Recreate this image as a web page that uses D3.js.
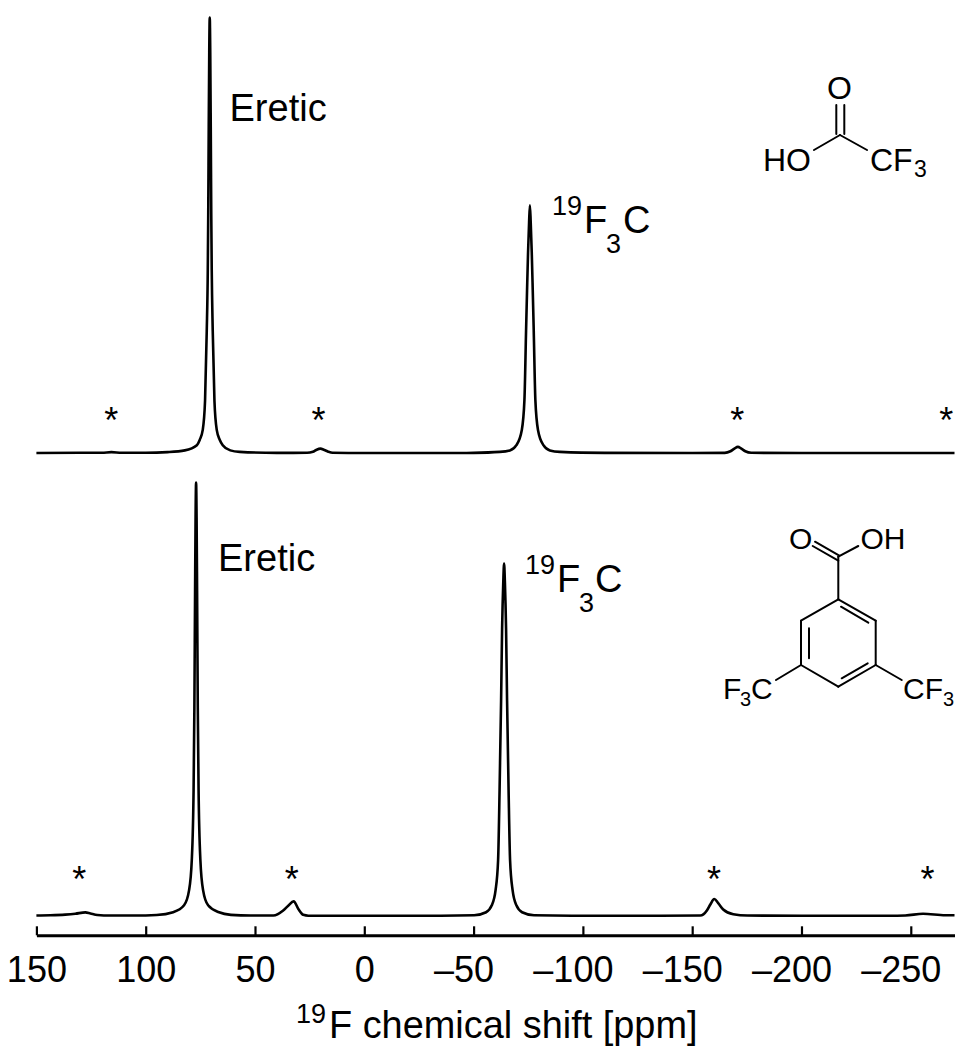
<!DOCTYPE html>
<html><head><meta charset="utf-8">
<script src="https://cdn.jsdelivr.net/npm/d3@7"></script>
<style>html,body{margin:0;padding:0;background:#fff}svg{display:block}text{font-family:"Liberation Sans",Arial,sans-serif;fill:#000}</style>
</head><body><div id="chart"></div>
<script>
const topPpm = [150,130,120,115.7,111,100,90,82.1,76.6,75.3,73.9,72.85,72.07,71.6,71.39,71.16,70.93,70.7,70.47,70.24,70.01,69.79,69.33,68.55,67.5,66.1,64.75,61.3,57,40,26.2,23.5,22,20.1,18.3,16.5,14.5,0,-40,-50,-62,-66.6,-69.58,-72.06,-73.26,-74.01,-74.46,-74.91,-75.39,-75.76,-76.13,-76.61,-77.06,-77.51,-78.26,-79.46,-81.94,-84.9,-89.5,-110,-150,-164.9,-167.5,-169.3,-170.9,-172.5,-174.3,-177,-200,-240,-270];
const topInt = [0,0.05,0.05,0.2,0.05,0.05,0.2,0.6,1.8,3,5.3,12,28,42,55,75,92,100,92,75,55,42,28,12,5.3,3,1.8,0.6,0.25,0.03,0.05,0.3,0.7,1,0.7,0.3,0.05,0,0,0.03,0.25,0.6,1.8,5.3,12.2,28.2,37.4,46,53,56.9,53,46,37.4,28.2,12.2,5.3,1.8,0.6,0.25,0.03,0,0.03,0.4,1,1.4,1,0.4,0.05,0,0,0];

const bottomPpm = [150,143.6,136.8,132.2,127.6,125.3,122.1,116.2,105,95,87.45,82.45,80.15,78.92,78.09,77.73,77.41,77.18,76.95,76.72,76.49,76.17,75.81,74.98,73.75,71.45,66.45,61,52,41.6,37.1,34.8,32.3,30.1,27.9,25.6,10,-35,-50.25,-55.72,-58.32,-60.06,-61.21,-61.89,-62.58,-63.04,-63.58,-63.95,-64.32,-64.86,-65.32,-66.01,-66.69,-67.84,-69.58,-72.18,-77.65,-95,-130,-153.7,-156.8,-158.3,-160.1,-161.9,-164.2,-168.8,-175.2,-200,-240,-247.5,-255.6,-265.8,-270];
const bottomInt = [0.05,0.1,0.25,0.45,0.76,0.5,0.15,0.03,0.03,0.15,0.8,2.4,5.9,12.8,29,48,75,92,100,92,75,48,29,12.8,5.9,2.4,0.8,0.2,0.03,0.05,1.2,2.3,3.3,1.5,0.2,0,0,0,0.1,0.8,2.4,5.9,12.8,29,49.6,66.2,77,81.3,77,66.2,49.6,29,12.8,5.9,2.4,0.8,0.1,0,0,0.03,1.27,2.6,3.85,2.9,1.43,0.35,0.05,0,0,0.05,0.45,0.12,0.12];

const topStars = [115.7,20.9,-170.6,-266.2];
const bottomStars = [130.4,33.2,-160,-257.6];
const tickValues = [150,100,50,0,-50,-100,-150,-200,-250];
const xDomain = [150,-270];

const svg = d3.select("#chart").append("svg").attr("width",979).attr("height",1056);
const x = d3.scaleLinear().domain(xDomain).range([36.4,954.5]);
const yTop = d3.scaleLinear().domain([0,100]).range([453,17.5]);
const yBottom = d3.scaleLinear().domain([0,100]).range([915.7,482.5]);

function drawSpectrum(ppm, intens, y){
  const pts = d3.zip(ppm, intens);
  const line = d3.line().x(d=>x(d[0])).y(d=>y(d[1])).curve(d3.curveMonotoneX);
  svg.append("path").attr("d",line(pts)).attr("fill","none").attr("stroke","#000")
    .attr("stroke-width",2.6).attr("stroke-linejoin","round").attr("stroke-linecap","butt");
}
drawSpectrum(topPpm, topInt, yTop);
drawSpectrum(bottomPpm, bottomInt, yBottom);

function stars(list, base){
  svg.append("g").selectAll("text").data(list).join("text")
    .attr("x",d=>x(d)).attr("y",base).attr("text-anchor","middle").attr("font-size",36).text("*");
}
stars(topStars, 433);
stars(bottomStars, 892);

const axis = d3.axisBottom(x).tickValues(tickValues).tickSizeInner(-9).tickSizeOuter(0)
  .tickFormat(d=> d<0 ? "\u2013"+Math.abs(d) : String(d));
const gAxis = svg.append("g").attr("transform","translate(0,935.3)").call(axis);
gAxis.select(".domain").attr("stroke","#000").attr("stroke-width",3);
gAxis.selectAll(".tick line").attr("stroke","#000").attr("stroke-width",2.2);
gAxis.selectAll(".tick text").attr("font-size",36).attr("font-family",'"Liberation Sans",Arial,sans-serif')
  .attr("fill","#000").attr("y",46.4).attr("dy",0).attr("text-anchor","middle")
  .attr("dx",d=>d<0?-10:0);

function label(px,py,size,str){
  return svg.append("text").attr("x",px).attr("y",py).attr("font-size",size).text(str);
}
label(296,1023,27,"19");
label(329,1038,37.9,"F chemical shift [ppm]");
label(229.5,120.5,38,"Eretic");
label(218,570.5,38,"Eretic");
label(552,215,27,"19");
label(584,233,38,"F");
label(606,253,27,"3");
label(623,233,38,"C");
label(525,574,27,"19");
label(557,592,38,"F");
label(579,612,27,"3");
label(595,592,38,"C");

// Molecule drawings
function bonds(list){
  svg.append("g").selectAll("line").data(list).join("line")
    .attr("x1",d=>d[0]).attr("y1",d=>d[1]).attr("x2",d=>d[2]).attr("y2",d=>d[3])
    .attr("stroke","#000").attr("stroke-width",2).attr("stroke-linecap","round");
}
bonds([[836.3,105,836.3,134],[844.3,105,844.3,134],[840,135,814,150],[840,135,867,150]]);
label(827,99,32,"O");
label(763,171,32,"HO");
label(870,171,32,"CF");
label(914,177,23,"3");

bonds([[815,541.7,839.3,555.7],[812.7,546,838.3,560.7],[838.3,556.7,858.3,546],[838.3,556.7,838.3,599.3],
  [838.3,599.3,875.7,620.7],[875.7,620.7,875.7,665],[875.7,665,838.3,686.7],[838.3,686.7,801,665],[801,665,801,620.7],[801,620.7,838.3,599.3],
  [841,606.7,868.3,622.7],[809,628.3,809,658.3],[841.7,678.3,867.7,663.3],[801,665,776,680],[875.7,665,901.7,680]]);
label(789,549,30,"O");
label(860.5,549,30,"OH");
label(723,699,30,"F");
label(740,706,20,"3");
label(751,699,30,"C");
label(903,699,30,"CF");
label(943,706,20,"3");
</script></body></html>
